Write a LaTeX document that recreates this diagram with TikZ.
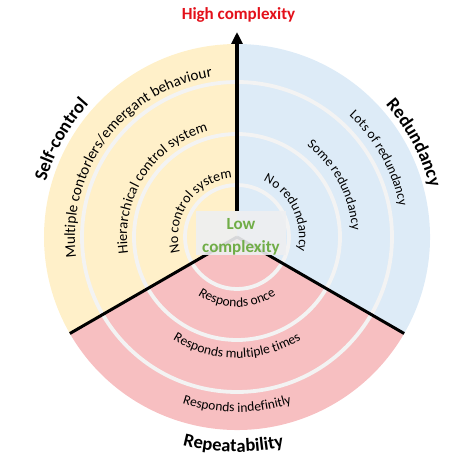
\documentclass[tikz,border=0pt]{standalone}
\usepackage{fontspec}
\setmainfont{Carlito}
\usetikzlibrary{decorations.text,arrows.meta}
\definecolor{secyellow}{HTML}{FFF0C9}
\definecolor{secblue}{HTML}{DDEBF7}
\definecolor{secpink}{HTML}{F7BFC1}
\definecolor{ringgray}{HTML}{F3F3F3}
\definecolor{lowgreen}{HTML}{70AD47}
\definecolor{highred}{HTML}{E3101A}
\definecolor{boxgray}{HTML}{EEEFF1}
\newcommand{\innerfont}{\fontsize{13.5}{14}\selectfont}
\newcommand{\innerfontL}[1]{\fontsize{#1}{#1}\selectfont}
\newcommand{\titlefont}{\bfseries\fontsize{18.5}{19}\selectfont}
\begin{document}
\begin{tikzpicture}[x=1pt,y=1pt,
  ring/.style={draw=ringgray, line width=3.8pt},
  divider/.style={draw=black, line width=3pt},
  arctext/.style={decorate, decoration={text along path, text align=center, text={#1}}},
]
\useasboundingbox (-237,-223) rectangle (237,237);
\coordinate (c) at (0,0);
\coordinate (dl) at (210:193);
\coordinate (dr) at (330:193);
\coordinate (top) at (0,205);
% sectors
\fill[secyellow] (c) -- (90:193) arc[start angle=90, end angle=210, radius=193] -- cycle;
\fill[secblue] (c) -- (-30:193) arc[start angle=-30, end angle=90, radius=193] -- cycle;
\fill[secpink] (c) -- (210:193) arc[start angle=210, end angle=330, radius=193] -- cycle;
% rings
\draw[ring] (c) circle[radius=52];
\draw[ring] (c) circle[radius=103];
\draw[ring] (c) circle[radius=155];
% dividers
\draw[divider] (c) -- (dl);
\draw[divider] (c) -- (dr);
% centre box
\node[fill=boxgray, fill opacity=0.9, minimum width=90pt, minimum height=44pt, inner sep=0pt] (lowbox) at (4,4) {};
\draw[line width=4pt, -{Triangle[width=11pt,length=12pt]}] (c |- lowbox.north) -- (top);
\node[font=\bfseries\fontsize{17}{17}\selectfont, text=lowgreen, anchor=base] (low1) at (4,7) {Low};
\node[font=\bfseries\fontsize{17}{17}\selectfont, text=lowgreen, anchor=base] (low2) at (4,-16) {complexity};
\node[font=\bfseries\fontsize{17}{17}\selectfont, text=highred, anchor=base] (high) at (1.5,217) {High complexity};
% self-control texts
\path[arctext={|\innerfontL{14}|No control system}] (215:59) arc[start angle=215, end angle=75, radius=59];
\path[arctext={|\innerfontL{14.5}|Hierarchical control system}] (217:110) arc[start angle=217, end angle=77, radius=110];
\path[arctext={|\innerfontL{15.2}|Multiple contorlers/emergant behaviour}] (213:162) arc[start angle=213, end angle=73, radius=162];
% redundancy texts
\path[arctext={|\innerfont|No redundancy}] (96:62) arc[start angle=96, end angle=-44, radius=62];
\path[arctext={|\innerfont|Some redundancy}] (98:115) arc[start angle=98, end angle=-42, radius=115];
\path[arctext={|\innerfont|Lots of redundancy}] (99:165) arc[start angle=99, end angle=-41, radius=165];
% repeatability texts
\path[arctext={|\innerfont|Responds once}] (200:70) arc[start angle=200, end angle=340, radius=70];
\path[arctext={|\innerfont|Responds multiple times}] (200:121) arc[start angle=200, end angle=340, radius=121];
\path[arctext={|\innerfont|Responds indefinitly}] (200:175) arc[start angle=200, end angle=340, radius=175];
% titles
\path[arctext={|\titlefont|Self-control}] (191:199) arc[start angle=191, end angle=111, radius=199];
\path[arctext={|\titlefont|Redundancy}] (68:199) arc[start angle=68, end angle=-12, radius=199];
\path[arctext={|\titlefont|Repeatability}] (229:215) arc[start angle=229, end angle=309, radius=215];
\end{tikzpicture}
\end{document}
